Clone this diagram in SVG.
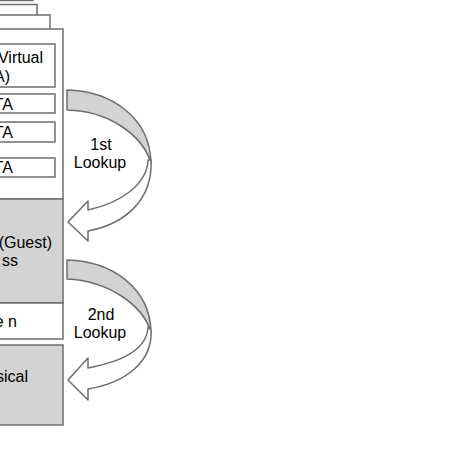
<svg xmlns="http://www.w3.org/2000/svg" width="474" height="474" viewBox="0 0 474 474">
<style>
.box{fill:#fff;stroke:#6e6e6e;stroke-width:1.5}
.gbox{fill:#d3d3d3;stroke:#6e6e6e;stroke-width:1.5}
.t{font-family:"Liberation Sans",Arial,sans-serif;font-size:16px;fill:#000}
.e{text-anchor:end}
.m{text-anchor:middle}
.back{fill:#d3d3d3;stroke:#6e6e6e;stroke-width:1.5;stroke-linejoin:round}
.front{fill:#fff;stroke:#6e6e6e;stroke-width:1.5;stroke-linejoin:round}
</style>
<rect x="0" y="0" width="474" height="474" fill="#fff"/>
<g id="stack">
<rect class="box" x="-20" y="-20" width="53" height="20.5"/>
<rect class="box" x="-20" y="4.5" width="57" height="30"/>
<rect class="box" x="-20" y="15" width="70" height="30"/>
</g>
<g id="guest-page-tables">
<rect class="box" x="-10" y="29" width="73" height="170"/>
</g>
<g id="gva"><rect class="box" x="-10" y="44" width="65" height="43"/>
<text class="t e" x="43" y="63">Virtual</text><text class="t e" x="10" y="82">A)</text></g>
<g id="ta1"><rect class="box" x="-10" y="94" width="65" height="19"/><text class="t e" x="13" y="110">TA</text></g>
<g id="ta2"><rect class="box" x="-10" y="122" width="65" height="20"/><text class="t e" x="13" y="138">TA</text></g>
<g id="ta3"><rect class="box" x="-10" y="158" width="65" height="19"/><text class="t e" x="13" y="173">TA</text></g>
<g id="gpa"><rect class="gbox" x="-10" y="199" width="73" height="104"/>
<text class="t e" x="52" y="248">(Guest)</text><text class="t e" x="18" y="266">ss</text></g>
<g id="table-n"><rect class="box" x="-10" y="303" width="73" height="36"/><text class="t e" x="17" y="327">e n</text></g>
<g id="hpa"><rect class="gbox" x="-10" y="345" width="73" height="80"/><text class="t e" x="28" y="382">sical</text></g>
<g id="connectors">
<path class="back" d="M67,90 C112,91 150,118 151,163 C142,134 108,111 67,110 Z"/>
<path class="front" d="M148,160 C147,185 120,203 88,210 L88,201 L68,222 L88,241 L88,231 C125,224 153,200 151,160 Z"/>
<path class="back" d="M67,260 C112,261 150,288 151,332 C142,304 108,281 67,279 Z"/>
<path class="front" d="M148,327 C147,350 120,362 88,368 L88,358 L68,380 L88,400 L88,389 C125,383 153,362 151,330 Z"/>
</g>
<g id="labels">
<text class="t m" x="101" y="150">1st</text><text class="t m" x="100" y="168">Lookup</text>
<text class="t m" x="101" y="320">2nd</text><text class="t m" x="100" y="338">Lookup</text>
</g>
</svg>
